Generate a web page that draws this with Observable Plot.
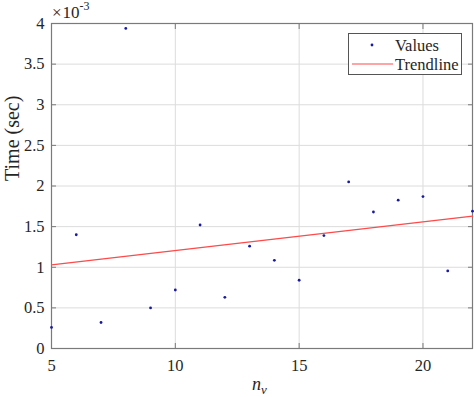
<!DOCTYPE html>
<html>
<head>
<meta charset="utf-8">
<script src="https://cdn.jsdelivr.net/npm/d3@7"></script>
<script src="https://cdn.jsdelivr.net/npm/@observablehq/plot@0.6"></script>
<style>
  html, body { margin: 0; padding: 0; background: #fff; }
  #chart { position: relative; width: 474px; height: 397px; font-family: "Liberation Serif", serif; }
</style>
</head>
<body>
<div id="chart"></div>
<script>
const nv = [5, 6, 7, 8, 9, 10, 11, 12, 13, 14, 15, 16, 17, 18, 19, 20, 21, 22];
const timeMs = [0.26, 1.40, 0.32, 3.94, 0.50, 0.72, 1.52, 0.63, 1.26, 1.085, 0.84, 1.39, 2.05, 1.68, 1.825, 1.87, 0.955, 1.69];
const trendX = [5, 22];
const trendY = [1.03, 1.63];
const xTicks = [5, 10, 15, 20];
const yTicks = [0, 0.5, 1, 1.5, 2, 2.5, 3, 3.5, 4];
const seriesNames = ["Values", "Trendline"];

const points = nv.map((x, i) => ({x, y: timeMs[i]}));
const trend = trendX.map((x, i) => ({x, y: trendY[i]}));

const FONT = "Liberation Serif";
const axisColor = "#7a7a7a";
const ink = "#262626";

const plot = Plot.plot({
  width: 474,
  height: 397,
  marginLeft: 51,
  marginRight: 2,
  marginTop: 23,
  marginBottom: 49,
  style: {fontFamily: FONT, fontSize: "16.5px", color: ink, background: "#fff", overflow: "visible"},
  x: {domain: [5, 22], ticks: xTicks},
  y: {domain: [0, 4], ticks: yTicks},
  marks: [
    Plot.gridX(xTicks, {stroke: "#dcdcdc", strokeOpacity: 1}),
    Plot.gridY(yTicks, {stroke: "#dcdcdc", strokeOpacity: 1}),
    Plot.axisX(xTicks, {anchor: "bottom", tickSize: -5, tickPadding: 16, stroke: axisColor, label: null, fill: ink, fontSize: 16.5, tickFormat: d => String(d)}),
    Plot.axisX(xTicks, {anchor: "top", tickSize: -5, tickFormat: () => "", stroke: axisColor, label: null}),
    Plot.axisY(yTicks, {anchor: "left", tickSize: -5, tickPadding: 12, stroke: axisColor, label: null, fill: ink, fontSize: 16.5, tickFormat: d => String(d)}),
    Plot.axisY(yTicks, {anchor: "right", tickSize: -5, tickFormat: () => "", stroke: axisColor, label: null}),
    Plot.frame({stroke: axisColor, strokeWidth: 1.2}),
    Plot.line(trend, {x: "x", y: "y", stroke: "#ff4a4a", strokeWidth: 1.2}),
    Plot.dot(points, {x: "x", y: "y", r: 1.4, fill: "#1a1aa0", stroke: "none"}),
    Plot.text(["Time (sec)"], {frameAnchor: "left", dx: -39, dy: -5, rotate: -90, fontSize: 20, fill: ink, text: d => d}),
  ]
});

document.getElementById("chart").appendChild(plot);

const svg = d3.select(plot);

// exponent label ×10^-3
const exp = svg.append("text")
  .attr("x", 52).attr("y", 18).attr("text-anchor", "start")
  .attr("font-size", 17).attr("fill", ink);
exp.append("tspan").text("×");
exp.append("tspan").attr("dx", 1).text("10");
exp.append("tspan").attr("dy", -8).attr("font-size", 12).text("-3");

// x axis label n_v
const xl = svg.append("text")
  .attr("x", 252).attr("y", 390).attr("text-anchor", "start")
  .attr("font-style", "italic").attr("font-size", 18).attr("fill", ink);
xl.append("tspan").text("n");
xl.append("tspan").attr("dy", 4).attr("font-size", 13).text("v");

// legend
const lg = svg.append("g");
lg.append("rect").attr("x", 348.5).attr("y", 33.5).attr("width", 113).attr("height", 41)
  .attr("fill", "#fff").attr("stroke", "#555").attr("stroke-width", 1);
lg.append("circle").attr("cx", 372).attr("cy", 45).attr("r", 1.4).attr("fill", "#1a1aa0");
lg.append("line").attr("x1", 352).attr("x2", 393).attr("y1", 64).attr("y2", 64)
  .attr("stroke", "#ff4a4a").attr("stroke-width", 1.2);
lg.append("text").attr("x", 395).attr("y", 51).attr("text-anchor", "start").attr("font-size", 16.5).attr("fill", ink).text(seriesNames[0]);
lg.append("text").attr("x", 395).attr("y", 70).attr("text-anchor", "start").attr("font-size", 16.5).attr("fill", ink).text(seriesNames[1]);

svg.attr("font-family", FONT);
svg.selectAll("text, tspan").attr("font-family", FONT).style("font-family", FONT);
</script>
</body>
</html>
